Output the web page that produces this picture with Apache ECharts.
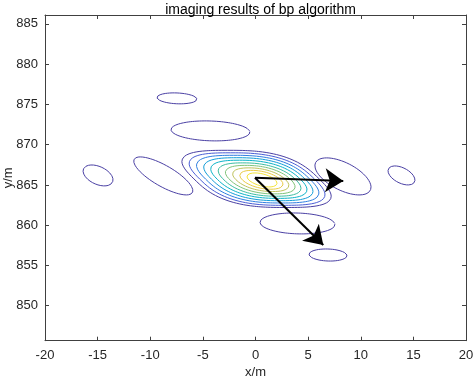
<!DOCTYPE html>
<html>
<head>
<meta charset="utf-8">
<script src="https://cdn.jsdelivr.net/npm/echarts@6/dist/echarts.min.js"></script>
<style>html,body{margin:0;padding:0;background:#fff}#c{width:474px;height:379px}</style>
</head>
<body>
<div id="c"></div>
<script>
// ---- data ----
const titleText = 'imaging results of bp algorithm';
const xTicks = [-20, -15, -10, -5, 0, 5, 10, 15, 20];
const yTicks = [850, 855, 860, 865, 870, 875, 880, 885];
const xRange = [-20, 20];
const yRange = [845.66, 886.1];

// side-lobe contours (lowest level), each an ellipse: centre, x/y half sizes, top shift
const sideCx = [-7.46, -4.28, -8.76, -14.96, 8.31, 13.87, 3.99, 6.89];
const sideCy = [875.75, 871.71, 866.12, 866.18, 866.06, 866.18, 860.22, 856.30];
const sideRx = [1.88, 3.72, 1.76, 1.29, 2.17, 1.12, 3.54, 1.80];
const sideRy = [0.68, 1.24, 2.36, 1.30, 2.30, 1.18, 1.30, 0.75];
const sideDx = [0.29, 0.48, 2.19, 0.60, 1.55, 0.62, 0.38, 0.19];

// main-lobe contour levels (outer -> inner); shape exponent 2 = ellipse, larger = squarer
const mainCx = [0.10, 0.15, 0.21, 0.27, 0.32, 0.39, 0.45, 0.50, 0.56, 0.62];
const mainCy = [865.75, 865.73, 865.72, 865.71, 865.70, 865.67, 865.66, 865.65, 865.64, 865.62];
const mainRx = [5.95, 5.45, 4.95, 4.45, 3.95, 3.42, 2.90, 2.36, 1.82, 1.26];
const mainRy = [3.55, 3.26, 2.96, 2.67, 2.37, 2.07, 1.77, 1.47, 1.17, 0.87];
const mainDx = [2.75, 2.52, 2.28, 2.05, 1.83, 1.60, 1.37, 1.13, 0.90, 0.67];
const mainExp = [2.9, 2.8, 2.7, 2.6, 2.5, 2.4, 2.3, 2.2, 2.1, 2.0];
const levelColors = ['#4a40a4', '#4a5ed6', '#2f7fe0', '#139ed8', '#0cb4c8', '#3cbda2', '#80c47a', '#bfc35e', '#e9cb45', '#f4e43a'];

// arrows
const arrowStart = [-0.05, 865.9];
const arrowEnds = [[8.34, 865.5], [6.44, 857.55]];

// ---- build ----
function sp(v, e) { return Math.sign(v) * Math.pow(Math.abs(v), 2 / e); }
function ellipse(cx, cy, rx, ry, dx, e) {
  const pts = [];
  const n = 200;
  for (let k = 0; k <= n; k++) {
    const t = 2 * Math.PI * k / n;
    const c = sp(Math.cos(t), e), s = sp(Math.sin(t), e);
    pts.push([cx + rx * c - dx * s, cy + ry * s]);
  }
  return pts;
}
const series = [];
sideCx.forEach((c, i) => {
  series.push({
    type: 'line', data: ellipse(c, sideCy[i], sideRx[i], sideRy[i], sideDx[i], 2),
    showSymbol: false, symbol: 'none', silent: true,
    lineStyle: { color: levelColors[0], width: 1 }, z: 2
  });
});
mainCx.forEach((c, i) => {
  series.push({
    type: 'line', data: ellipse(c, mainCy[i], mainRx[i], mainRy[i], mainDx[i], mainExp[i]),
    showSymbol: false, symbol: 'none', silent: true,
    lineStyle: { color: levelColors[i], width: 1 }, z: 2
  });
});
series.push({
  type: 'lines', coordinateSystem: 'cartesian2d', silent: true, z: 5,
  symbol: ['none', 'arrow'], symbolSize: 18,
  lineStyle: { color: '#000', width: 2, opacity: 1 },
  data: arrowEnds.map(e => ({ coords: [arrowStart, e] }))
});

const axisCol = '#404040';
const txtCol = '#262626';
const font = 'Liberation Sans, Arial, sans-serif';
const chart = echarts.init(document.getElementById('c'), null, { renderer: 'canvas' });
chart.setOption({
  animation: false,
  backgroundColor: '#fff',
  title: {
    text: titleText, left: 255.5, textAlign: 'center', top: -2,
    textStyle: { fontSize: 14, fontWeight: 'normal', color: '#000', fontFamily: font }
  },
  grid: { left: 45, right: 8, top: 15, bottom: 38.3, containLabel: false, outerBoundsMode: 'none' },
  xAxis: [
    {
      type: 'value', min: xRange[0], max: xRange[1], interval: 5, position: 'bottom',
      name: 'x/m', nameLocation: 'middle', nameGap: 25, nameMoveOverlap: false,
      nameTextStyle: { fontSize: 13, color: txtCol, fontFamily: font },
      axisLine: { show: true, onZero: false, lineStyle: { color: axisCol, width: 1 } },
      axisTick: { show: true, inside: true, length: 4, lineStyle: { color: axisCol } },
      axisLabel: { fontSize: 13, color: txtCol, margin: 8, fontFamily: font },
      splitLine: { show: false }
    },
    {
      type: 'value', min: xRange[0], max: xRange[1], interval: 5, position: 'top',
      axisLine: { show: true, onZero: false, lineStyle: { color: axisCol, width: 1 } },
      axisTick: { show: true, inside: true, length: 4, lineStyle: { color: axisCol } },
      axisLabel: { show: false }, splitLine: { show: false }
    }
  ],
  yAxis: [
    {
      type: 'value', min: yRange[0], max: yRange[1], position: 'left',
      name: 'y/m', nameLocation: 'middle', nameGap: 30, nameRotate: 90, nameMoveOverlap: false,
      nameTextStyle: { fontSize: 13, color: txtCol, fontFamily: font },
      axisLine: { show: true, onZero: false, lineStyle: { color: axisCol, width: 1 } },
      axisTick: { show: true, inside: true, length: 4, customValues: yTicks, lineStyle: { color: axisCol } },
      axisLabel: { fontSize: 13, color: txtCol, margin: 7, customValues: yTicks, fontFamily: font },
      splitLine: { show: false }
    },
    {
      type: 'value', min: yRange[0], max: yRange[1], position: 'right',
      axisLine: { show: true, onZero: false, lineStyle: { color: axisCol, width: 1 } },
      axisTick: { show: true, inside: true, length: 4, customValues: yTicks, lineStyle: { color: axisCol } },
      axisLabel: { show: false }, splitLine: { show: false }
    }
  ],
  series: series
});
</script>
</body>
</html>
